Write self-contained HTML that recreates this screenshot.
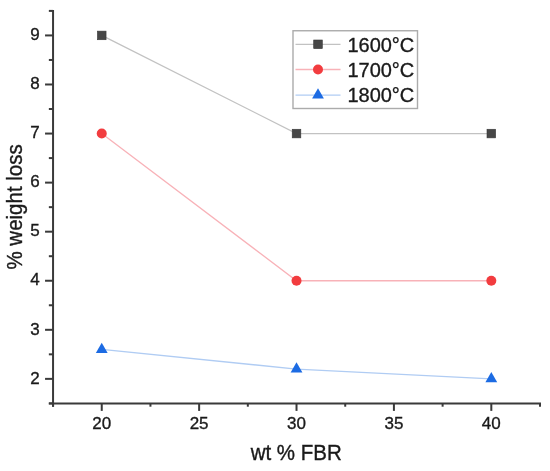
<!DOCTYPE html>
<html><head><meta charset="utf-8"><style>
html,body{margin:0;padding:0;background:#fff;}
svg{display:block;}
text{font-family:"Liberation Sans",Arial,sans-serif;fill:#1a1a1a;stroke:#1a1a1a;stroke-width:0.35px;}
.tl{font-size:17px;}
.at{font-size:20.5px;}
.lg{font-size:20.3px;}
</style></head><body>
<svg width="550" height="471" viewBox="0 0 550 471">
<line x1="53.05" y1="9.90" x2="53.05" y2="406.70" stroke="#3a3a3a" stroke-width="2"/>
<line x1="48.85" y1="403.40" x2="541.00" y2="403.40" stroke="#3a3a3a" stroke-width="2"/>
<line x1="48.85" y1="403.40" x2="53.05" y2="403.40" stroke="#3a3a3a" stroke-width="2"/>
<line x1="45.05" y1="378.87" x2="53.05" y2="378.87" stroke="#3a3a3a" stroke-width="2"/>
<text x="39.8" y="383.57" text-anchor="end" class="tl">2</text>
<line x1="48.85" y1="354.34" x2="53.05" y2="354.34" stroke="#3a3a3a" stroke-width="2"/>
<line x1="45.05" y1="329.81" x2="53.05" y2="329.81" stroke="#3a3a3a" stroke-width="2"/>
<text x="39.8" y="334.51" text-anchor="end" class="tl">3</text>
<line x1="48.85" y1="305.27" x2="53.05" y2="305.27" stroke="#3a3a3a" stroke-width="2"/>
<line x1="45.05" y1="280.74" x2="53.05" y2="280.74" stroke="#3a3a3a" stroke-width="2"/>
<text x="39.8" y="285.44" text-anchor="end" class="tl">4</text>
<line x1="48.85" y1="256.21" x2="53.05" y2="256.21" stroke="#3a3a3a" stroke-width="2"/>
<line x1="45.05" y1="231.68" x2="53.05" y2="231.68" stroke="#3a3a3a" stroke-width="2"/>
<text x="39.8" y="236.38" text-anchor="end" class="tl">5</text>
<line x1="48.85" y1="207.15" x2="53.05" y2="207.15" stroke="#3a3a3a" stroke-width="2"/>
<line x1="45.05" y1="182.62" x2="53.05" y2="182.62" stroke="#3a3a3a" stroke-width="2"/>
<text x="39.8" y="187.32" text-anchor="end" class="tl">6</text>
<line x1="48.85" y1="158.09" x2="53.05" y2="158.09" stroke="#3a3a3a" stroke-width="2"/>
<line x1="45.05" y1="133.56" x2="53.05" y2="133.56" stroke="#3a3a3a" stroke-width="2"/>
<text x="39.8" y="138.26" text-anchor="end" class="tl">7</text>
<line x1="48.85" y1="109.02" x2="53.05" y2="109.02" stroke="#3a3a3a" stroke-width="2"/>
<line x1="45.05" y1="84.49" x2="53.05" y2="84.49" stroke="#3a3a3a" stroke-width="2"/>
<text x="39.8" y="89.19" text-anchor="end" class="tl">8</text>
<line x1="48.85" y1="59.96" x2="53.05" y2="59.96" stroke="#3a3a3a" stroke-width="2"/>
<line x1="45.05" y1="35.43" x2="53.05" y2="35.43" stroke="#3a3a3a" stroke-width="2"/>
<text x="39.8" y="40.13" text-anchor="end" class="tl">9</text>
<line x1="48.85" y1="10.90" x2="53.05" y2="10.90" stroke="#3a3a3a" stroke-width="2"/>
<line x1="53.05" y1="403.40" x2="53.05" y2="406.70" stroke="#3a3a3a" stroke-width="2"/>
<line x1="101.75" y1="403.40" x2="101.75" y2="410.90" stroke="#3a3a3a" stroke-width="2"/>
<text x="101.75" y="429.2" text-anchor="middle" class="tl">20</text>
<line x1="150.44" y1="403.40" x2="150.44" y2="406.70" stroke="#3a3a3a" stroke-width="2"/>
<line x1="199.13" y1="403.40" x2="199.13" y2="410.90" stroke="#3a3a3a" stroke-width="2"/>
<text x="199.13" y="429.2" text-anchor="middle" class="tl">25</text>
<line x1="247.83" y1="403.40" x2="247.83" y2="406.70" stroke="#3a3a3a" stroke-width="2"/>
<line x1="296.52" y1="403.40" x2="296.52" y2="410.90" stroke="#3a3a3a" stroke-width="2"/>
<text x="296.52" y="429.2" text-anchor="middle" class="tl">30</text>
<line x1="345.22" y1="403.40" x2="345.22" y2="406.70" stroke="#3a3a3a" stroke-width="2"/>
<line x1="393.92" y1="403.40" x2="393.92" y2="410.90" stroke="#3a3a3a" stroke-width="2"/>
<text x="393.92" y="429.2" text-anchor="middle" class="tl">35</text>
<line x1="442.61" y1="403.40" x2="442.61" y2="406.70" stroke="#3a3a3a" stroke-width="2"/>
<line x1="491.31" y1="403.40" x2="491.31" y2="410.90" stroke="#3a3a3a" stroke-width="2"/>
<text x="491.31" y="429.2" text-anchor="middle" class="tl">40</text>
<line x1="540.00" y1="403.40" x2="540.00" y2="406.70" stroke="#3a3a3a" stroke-width="2"/>
<text transform="translate(296.2 460.4) scale(1 1.035)" text-anchor="middle" class="at">wt % FBR</text>
<text transform="translate(22.4 206.9) rotate(-90) scale(1 1.035)" text-anchor="middle" class="at">% weight loss</text>
<polyline points="101.75,35.43 296.52,133.56 491.31,133.56" fill="none" stroke="#c2c2c2" stroke-width="1.3"/>
<polyline points="101.75,133.56 296.52,280.74 491.31,280.74" fill="none" stroke="#f8b2b8" stroke-width="1.3"/>
<polyline points="101.75,349.43 296.52,369.06 491.31,378.87" fill="none" stroke="#b0ccf3" stroke-width="1.3"/>
<rect x="97.45" y="31.13" width="8.6" height="8.6" fill="#474747" stroke="#383838" stroke-width="0.6"/>
<rect x="292.22" y="129.26" width="8.6" height="8.6" fill="#474747" stroke="#383838" stroke-width="0.6"/>
<rect x="487.00" y="129.26" width="8.6" height="8.6" fill="#474747" stroke="#383838" stroke-width="0.6"/>
<circle cx="101.75" cy="133.56" r="5" fill="#f23c3f"/>
<circle cx="296.52" cy="280.74" r="5" fill="#f23c3f"/>
<circle cx="491.31" cy="280.74" r="5" fill="#f23c3f"/>
<polygon points="101.75,342.63 107.65,352.93 95.84,352.93" fill="#1c6be3"/>
<polygon points="296.52,362.26 302.42,372.56 290.62,372.56" fill="#1c6be3"/>
<polygon points="491.31,372.07 497.20,382.37 485.41,382.37" fill="#1c6be3"/>
<rect x="293" y="30.75" width="124.5" height="77.75" fill="#fff" stroke="#ababab" stroke-width="1.4"/>
<line x1="295.5" y1="44.30" x2="340.5" y2="44.30" stroke="#c2c2c2" stroke-width="1.3"/>
<rect x="313.70" y="40.00" width="8.6" height="8.6" fill="#474747" stroke="#383838" stroke-width="0.6"/>
<text transform="translate(347.4 51.70) scale(0.985 1.035)" class="lg">1600°C</text>
<line x1="295.5" y1="69.50" x2="340.5" y2="69.50" stroke="#f8b2b8" stroke-width="1.3"/>
<circle cx="318.00" cy="69.50" r="5" fill="#f23c3f"/>
<text transform="translate(347.4 76.80) scale(0.985 1.035)" class="lg">1700°C</text>
<line x1="295.5" y1="95.20" x2="340.5" y2="95.20" stroke="#b0ccf3" stroke-width="1.3"/>
<polygon points="318.00,88.20 323.90,98.50 312.10,98.50" fill="#1c6be3"/>
<text transform="translate(347.4 101.80) scale(0.985 1.035)" class="lg">1800°C</text>
</svg>
</body></html>
